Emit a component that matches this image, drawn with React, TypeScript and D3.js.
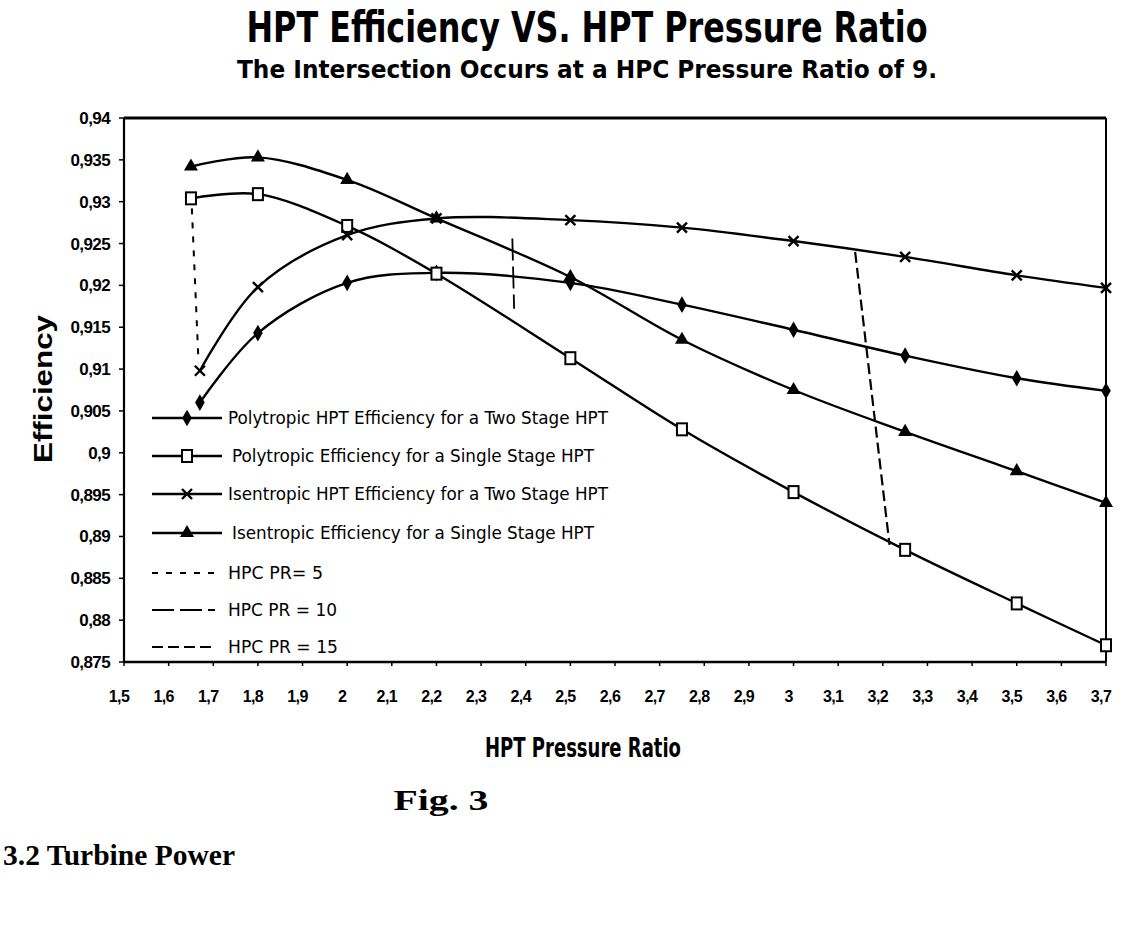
import React from "react";
import * as d3 from "d3";

// ---- data ----
const xSingleStage = [1.65, 1.8, 2.0, 2.2, 2.5, 2.75, 3.0, 3.25, 3.5, 3.7];
const xTwoStage = [1.67, 1.8, 2.0, 2.2, 2.5, 2.75, 3.0, 3.25, 3.5, 3.7];

const polyTwoStage = [0.906, 0.9143, 0.9203, 0.9215, 0.9203, 0.9177, 0.9147, 0.9116, 0.9089, 0.9074];
const polySingleStage = [0.9304, 0.9309, 0.9271, 0.9214, 0.9113, 0.9028, 0.8953, 0.8884, 0.882, 0.877];
const isenTwoStage = [0.9098, 0.9198, 0.926, 0.928, 0.9278, 0.9269, 0.9253, 0.9234, 0.9212, 0.9197];
const isenSingleStage = [0.9342, 0.9353, 0.9326, 0.928, 0.921, 0.9135, 0.9075, 0.9025, 0.8978, 0.894];

// HPC pressure-ratio iso lines: [x, y] end points
const hpcPR5 = [[1.652, 0.9292], [1.667, 0.9108]];
const hpcPR10 = [[2.37, 0.9256], [2.374, 0.9172]];
const hpcPR15 = [[3.138, 0.924], [3.215, 0.889]];

const xTickValues = [1.5, 1.6, 1.7, 1.8, 1.9, 2.0, 2.1, 2.2, 2.3, 2.4, 2.5, 2.6, 2.7, 2.8, 2.9, 3.0, 3.1, 3.2, 3.3, 3.4, 3.5, 3.6, 3.7];
const yTickValues = [0.875, 0.88, 0.885, 0.89, 0.895, 0.9, 0.905, 0.91, 0.915, 0.92, 0.925, 0.93, 0.935, 0.94];

const legendLabels = [
  "Polytropic HPT Efficiency for a Two Stage HPT",
  "Polytropic Efficiency for a Single  Stage HPT",
  "Isentropic HPT Efficiency for a Two Stage HPT",
  "Isentropic Efficiency for a Single  Stage HPT",
  "HPC PR= 5",
  "HPC PR = 10",
  "HPC PR = 15",
];

const title = "HPT Efficiency VS. HPT Pressure Ratio";
const subtitle = "The Intersection Occurs at a HPC Pressure Ratio of 9.";
const xTitle = "HPT Pressure Ratio";
const yTitle = "Efficiency";
const figCaption = "Fig. 3";
const sectionHeading = "3.2 Turbine Power";

// ---- layout ----
const W = 1144;
const H = 929;
const L = 124, R = 1106, T = 118, B = 662;
const NARROW = "'Liberation Sans Narrow', 'DejaVu Sans Condensed', 'Arial Narrow', sans-serif";
const SANS = "'Liberation Sans', Arial, sans-serif";
const SERIF = "'Liberation Serif', 'Times New Roman', serif";

const fmt = (v: number) => String(+v.toFixed(3)).replace(".", ",");

type MarkerKind = "diamond" | "square" | "x" | "triangle";

function Marker({ kind, x, y }: { kind: MarkerKind; x: number; y: number }) {
  if (kind === "diamond") {
    const p = d3.symbol().type(d3.symbolDiamond).size(80)();
    return <path d={p || ""} transform={`translate(${x},${y})`} fill="#000" />;
  }
  if (kind === "triangle") {
    const p = d3.symbol().type(d3.symbolTriangle).size(85)();
    return <path d={p || ""} transform={`translate(${x},${y})`} fill="#000" />;
  }
  if (kind === "square") {
    return <rect x={x - 5} y={y - 6} width={10} height={12} fill="#fff" stroke="#000" strokeWidth={2} />;
  }
  const s = 5;
  return (
    <g stroke="#000" strokeWidth={2.4}>
      <line x1={x - s} y1={y - s} x2={x + s} y2={y + s} />
      <line x1={x - s} y1={y + s} x2={x + s} y2={y - s} />
    </g>
  );
}

export default function App() {
  const x = d3.scaleLinear().domain([1.5, 3.7]).range([L, R]);
  const y = d3.scaleLinear().domain([0.875, 0.94]).range([B, T]);

  const series: { xs: number[]; ys: number[]; kind: MarkerKind }[] = [
    { xs: xTwoStage, ys: polyTwoStage, kind: "diamond" },
    { xs: xSingleStage, ys: polySingleStage, kind: "square" },
    { xs: xTwoStage, ys: isenTwoStage, kind: "x" },
    { xs: xSingleStage, ys: isenSingleStage, kind: "triangle" },
  ];

  const lineGen = d3
    .line<[number, number]>()
    .x((d) => x(d[0]))
    .y((d) => y(d[1]))
    .curve(d3.curveCatmullRom.alpha(0.5));

  const straight = d3
    .line<number[]>()
    .x((d) => x(d[0]))
    .y((d) => y(d[1]));

  const legendY = [418, 456, 494, 533, 573, 610, 647];
  const legendTextLen = [380, 362, 380, 362, 95, 109, 110];
  const legendTextX = [228, 232, 228, 232, 228, 228, 228];
  const legendKinds: MarkerKind[] = ["diamond", "square", "x", "triangle"];
  const refDash = ["6 8", "22 6", "11 5"];
  const refWidth = [2, 1.8, 2.2];

  return (
    <svg
      width={W}
      height={H}
      style={{ position: "absolute", left: 0, top: 0, background: "#fff" }}
    >
      <rect x={0} y={0} width={W} height={H} fill="#fff" />

      {/* titles */}
      <text x={587} y={42} textAnchor="middle" fontFamily={NARROW} fontWeight="bold" fontSize={42}
        textLength={681} lengthAdjust="spacingAndGlyphs">{title}</text>
      <text x={587} y={78} textAnchor="middle" fontFamily={NARROW} fontWeight="bold" fontSize={24}
        textLength={700} lengthAdjust="spacingAndGlyphs">{subtitle}</text>

      {/* frame */}
      <line x1={L} y1={T} x2={R} y2={T} stroke="#000" strokeWidth={3} />
      <line x1={R} y1={T} x2={R} y2={B} stroke="#000" strokeWidth={2} />
      <line x1={L} y1={T} x2={L} y2={B} stroke="#000" strokeWidth={2.2} />
      <line x1={L} y1={B} x2={R} y2={B} stroke="#000" strokeWidth={2.6} />

      {/* y ticks */}
      {yTickValues.map((v) => (
        <g key={"y" + v}>
          <line x1={L - 5} x2={L} y1={y(v)} y2={y(v)} stroke="#000" strokeWidth={1.5} />
          <text x={110} y={y(v) + 6} textAnchor="end" fontFamily={SANS} fontWeight="bold" fontSize={17}
            letterSpacing={-0.6}>{fmt(v)}</text>
        </g>
      ))}

      {/* x ticks */}
      {xTickValues.map((v) => (
        <g key={"x" + v}>
          <line x1={x(v)} x2={x(v)} y1={B} y2={B + 4} stroke="#000" strokeWidth={1.5} />
          <text x={x(v) - 5} y={702} textAnchor="middle" fontFamily={SANS} fontWeight="bold" fontSize={16}
            letterSpacing={-0.6}>{fmt(v)}</text>
        </g>
      ))}

      {/* axis titles */}
      <text x={583} y={757} textAnchor="middle" fontFamily={NARROW} fontWeight="bold" fontSize={26}
        textLength={196} lengthAdjust="spacingAndGlyphs">{xTitle}</text>
      <text transform="translate(52,389) rotate(-90)" textAnchor="middle" fontFamily={SANS} fontWeight="bold"
        fontSize={26} textLength={148} lengthAdjust="spacingAndGlyphs">{yTitle}</text>

      {/* HPC PR reference lines */}
      {[hpcPR5, hpcPR10, hpcPR15].map((pts, i) => (
        <path key={"ref" + i} d={straight(pts) || ""} fill="none" stroke="#000"
          strokeWidth={refWidth[i]} strokeDasharray={refDash[i]} />
      ))}

      {/* series */}
      {series.map((s, i) => {
        const pts = s.xs.map((xv, j) => [xv, s.ys[j]] as [number, number]);
        return (
          <g key={"s" + i}>
            <path d={lineGen(pts) || ""} fill="none" stroke="#000" strokeWidth={2.4} />
            {pts.map((p, j) => (
              <Marker key={j} kind={s.kind} x={x(p[0])} y={y(p[1])} />
            ))}
          </g>
        );
      })}

      {/* legend */}
      {legendLabels.map((lab, i) => (
        <g key={"lg" + i}>
          {i < 4 ? (
            <>
              <line x1={152} x2={222} y1={legendY[i]} y2={legendY[i]} stroke="#000" strokeWidth={2.4} />
              <Marker kind={legendKinds[i]} x={187} y={legendY[i]} />
            </>
          ) : (
            <line x1={152} x2={215} y1={legendY[i]} y2={legendY[i]} stroke="#000"
              strokeWidth={refWidth[i - 4]} strokeDasharray={refDash[i - 4]} />
          )}
          <text x={legendTextX[i]} y={legendY[i] + 6} fontFamily={NARROW} fontSize={18}
            textLength={legendTextLen[i]} lengthAdjust="spacingAndGlyphs">{lab}</text>
        </g>
      ))}

      {/* captions below chart */}
      <text x={441} y={810} textAnchor="middle" fontFamily={SERIF} fontWeight="bold" fontSize={29}
        textLength={95} lengthAdjust="spacingAndGlyphs">{figCaption}</text>
      <text x={3} y={865} fontFamily={SERIF} fontWeight="bold" fontSize={29}
        textLength={232} lengthAdjust="spacingAndGlyphs">{sectionHeading}</text>
    </svg>
  );
}
